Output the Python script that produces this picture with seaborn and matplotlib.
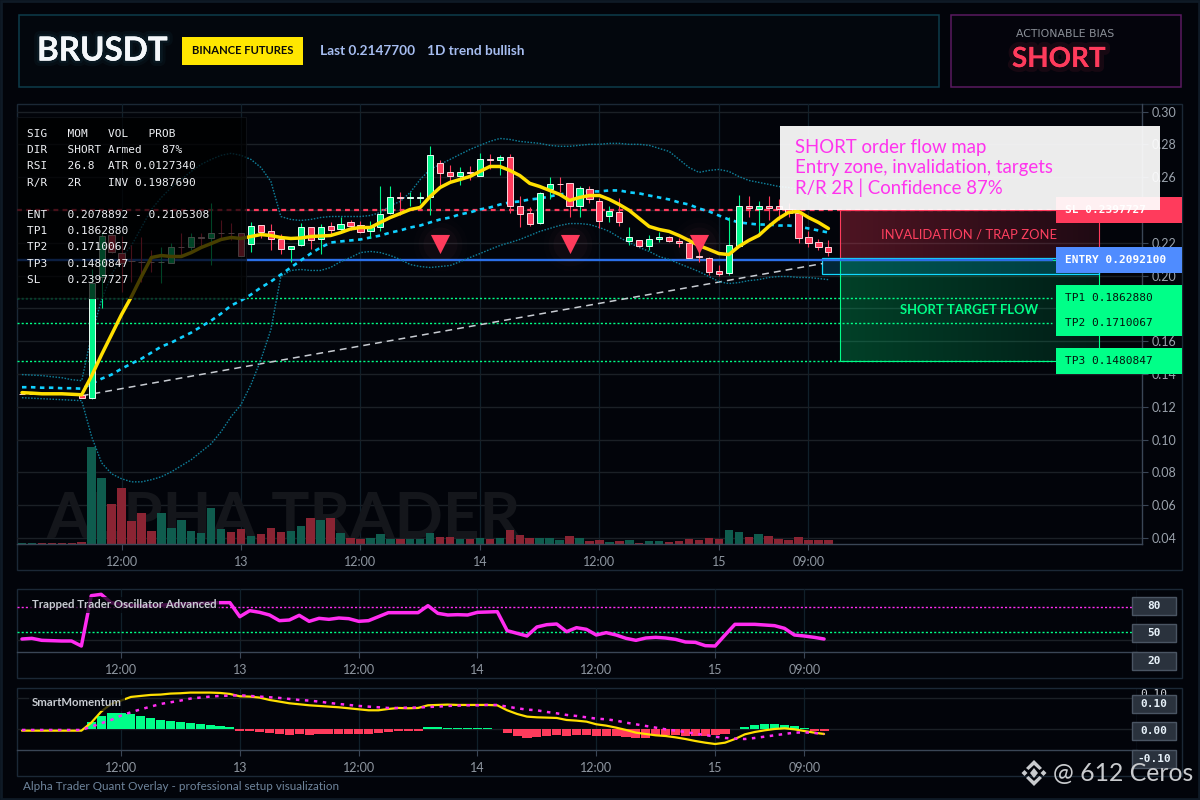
import matplotlib
matplotlib.use("Agg")
import matplotlib.pyplot as plt
from matplotlib.patches import Rectangle, Polygon
import matplotlib.patheffects as pe
import numpy as np
import pandas as pd
import seaborn as sns

# =============================================================================
# data
# =============================================================================
hours = list(range(-22, 60))  # hours from the start of the 13th, one bar per hour
tick_hours = [-12, 0, 12, 24, 36, 48, 57]
tick_labels = ["12:00", "13", "12:00", "14", "12:00", "15", "09:00"]
price_ticks = [0.04, 0.06, 0.08, 0.10, 0.12, 0.14, 0.16, 0.18, 0.20, 0.22, 0.24, 0.26, 0.28, 0.30]

opens = [.1280, .1280, .1280, .1280, .1280, .1280, .1273, .1255, .1993, .2250, .2140, .2091, .2085, .2085, .2082,
         .2079, .2177, .2171, .2232, .2226, .2262, .2262, .2262, .2195, .2311, .2274, .2225, .2164, .2189, .2299,
         .2225, .2305, .2286, .2329, .2311, .2274, .2299, .2384, .2479, .2473, .2473, .2476, .2689, .2634, .2604,
         .2631, .2610, .2711, .2702, .2720, .2427, .2384, .2323, .2525, .2561, .2567, .2421, .2525, .2452, .2366,
         .2390, .2213, .2219, .2183, .2225, .2238, .2213, .2201, .2118, .2109, .2030, .2018, .2183, .2421, .2403,
         .2421, .2421, .2403, .2384, .2238, .2207, .2177]
highs = [.1284, .1284, .1284, .1284, .1284, .1284, .1279, .2042, .2262, .2256, .2244, .2189, .2238, .2158, .2177,
         .2201, .2262, .2262, .2262, .2445, .2341, .2323, .2262, .2329, .2311, .2317, .2256, .2183, .2323, .2299,
         .2317, .2329, .2354, .2341, .2335, .2335, .2549, .2543, .2512, .2512, .2512, .2787, .2702, .2677, .2659,
         .2665, .2750, .2744, .2738, .2744, .2488, .2415, .2512, .2598, .2598, .2567, .2549, .2549, .2470, .2427,
         .2470, .2299, .2219, .2250, .2268, .2244, .2231, .2231, .2158, .2115, .2067, .2354, .2494, .2488, .2452,
         .2482, .2464, .2445, .2390, .2274, .2225, .2219]
lows = [.1275, .1275, .1275, .1275, .1275, .1275, .1255, .1250, .1804, .2140, .1902, .1963, .1963, .2024, .1957,
        .2079, .2116, .2158, .2171, .2067, .2219, .2219, .2122, .2146, .2231, .2158, .2134, .2085, .2183, .2164,
        .2134, .2244, .2262, .2280, .2262, .2231, .2274, .2378, .2372, .2427, .2445, .2372, .2549, .2567, .2555,
        .2580, .2610, .2647, .2616, .2384, .2299, .2305, .2317, .2464, .2512, .2360, .2360, .2445, .2292, .2329,
        .2305, .2189, .2177, .2158, .2207, .2207, .2177, .2106, .2085, .2006, .2000, .2006, .2171, .2354, .2250,
        .2341, .2341, .2354, .2201, .2177, .2158, .2122]
closes = [.1279, .1279, .1279, .1279, .1279, .1279, .1255, .1957, .2244, .2146, .2079, .2088, .2082, .2082, .2085,
          .2177, .2174, .2232, .2229, .2262, .2259, .2259, .2122, .2305, .2268, .2225, .2164, .2183, .2299, .2219,
          .2299, .2280, .2317, .2305, .2268, .2299, .2378, .2476, .2473, .2479, .2479, .2732, .2628, .2604, .2634,
          .2625, .2708, .2705, .2720, .2421, .2378, .2317, .2506, .2561, .2558, .2421, .2531, .2464, .2335, .2396,
          .2329, .2232, .2183, .2225, .2238, .2213, .2201, .2109, .2112, .2024, .2012, .2189, .2421, .2409, .2427,
          .2409, .2403, .2384, .2231, .2201, .2171, .2146]

fast_ma = [.1286, .1283, .1279, .1279, .1279, .1276, .1273, .1389, .1518, .1640, .1762, .1872, .1994, .2110, .2122,
           .2116, .2116, .2140, .2171, .2195, .2220, .2232, .2226, .2238, .2250, .2244, .2232, .2226, .2229, .2238,
           .2241, .2244, .2262, .2284, .2293, .2293, .2324, .2354, .2378, .2403, .2415, .2482, .2537, .2568, .2586,
           .2604, .2635, .2665, .2665, .2641, .2610, .2562, .2543, .2519, .2495, .2458, .2476, .2488, .2488, .2464,
           .2433, .2397, .2348, .2299, .2281, .2269, .2244, .2214, .2183, .2159, .2134, .2128, .2177, .2214, .2244,
           .2299, .2348, .2385, .2391, .2354, .2324, .2287]
slow_ma = [.1319, .1319, .1316, .1316, .1313, .1313, .1310, .1341, .1371, .1396, .1432, .1463, .1493, .1530, .1567,
           .1591, .1622, .1652, .1689, .1725, .1768, .1817, .1847, .1884, .1927, .1963, .2006, .2049, .2092, .2134,
           .2171, .2201, .2208, .2214, .2220, .2232, .2244, .2262, .2275, .2293, .2305, .2324, .2342, .2354, .2373,
           .2385, .2403, .2415, .2433, .2446, .2452, .2464, .2470, .2482, .2495, .2501, .2507, .2513, .2513, .2519,
           .2519, .2507, .2501, .2488, .2476, .2464, .2446, .2433, .2409, .2391, .2366, .2342, .2324, .2317, .2311,
           .2311, .2305, .2305, .2299, .2287, .2275, .2262]
band_up = [.1396, .1393, .1390, .1383, .1377, .1365, .1359, .1640, .1854, .2006, .2110, .2183, .2293, .2403, .2476,
           .2537, .2586, .2635, .2678, .2708, .2733, .2745, .2733, .2708, .2659, .2574, .2360, .2342, .2336, .2342,
           .2354, .2360, .2360, .2360, .2360, .2366, .2385, .2427, .2452, .2507, .2586, .2647, .2678, .2708, .2739,
           .2769, .2794, .2818, .2836, .2830, .2818, .2812, .2806, .2794, .2788, .2788, .2794, .2800, .2800, .2806,
           .2806, .2800, .2800, .2794, .2775, .2757, .2708, .2659, .2629, .2641, .2647, .2635, .2604, .2580, .2568,
           .2556, .2543, .2537, .2525, .2513, .2501, .2482]
band_lo = [.1255, .1252, .1249, .1246, .1243, .1240, .1237, .1017, .0858, .0791, .0761, .0742, .0742, .0755, .0773,
           .0803, .0840, .0877, .0926, .0974, .1048, .1139, .1213, .1335, .1487, .1670, .1994, .2031, .2037, .2031,
           .2031, .2049, .2085, .2110, .2140, .2147, .2140, .2122, .2098, .2067, .2055, .2049, .2055, .2061, .2085,
           .2110, .2134, .2159, .2183, .2201, .2220, .2244, .2269, .2287, .2305, .2317, .2317, .2311, .2293, .2269,
           .2232, .2201, .2171, .2147, .2116, .2098, .2073, .2049, .2024, .1994, .1963, .1951, .1957, .1969, .1975,
           .1988, .1994, .1994, .1988, .1988, .1982, .1975]
volume = [1.3, 1.3, 1.3, 1.3, 1.3, 1.3, 2.3, 97, 66, 40, 56, 23, 31, 13, 31, 16, 24, 13, 11, 36, 15, 12, 15, 8, 10,
          16, 12, 13, 18, 26, 24, 26, 11, 6, 5, 6, 10, 5, 5, 5, 5, 11, 7, 7, 5, 5, 6, 5, 6, 14, 9, 6, 6, 6, 4, 8, 6,
          3, 4, 2.3, 3.3, 4.3, 1.3, 3.3, 3.3, 2.3, 3.3, 5.3, 4.3, 6.3, 5.3, 14.3, 12.3, 7.3, 10.3, 8.3, 5.3, 4.3,
          7.3, 4.3, 4.3, 4.3]
volume_up = [1, 1, 0, 0, 0, 0, 0, 1, 1, 0, 0, 0, 0, 0, 1, 1, 1, 1, 1, 1, 1, 0, 0, 1, 0, 0, 0, 1, 1, 0, 1, 0, 1, 0, 0,
             1, 1, 1, 0, 1, 1, 1, 0, 0, 1, 0, 1, 0, 1, 0, 0, 0, 1, 1, 1, 0, 1, 0, 0, 1, 0, 1, 0, 1, 1, 0, 0, 0, 0, 0,
             0, 1, 1, 0, 1, 0, 0, 0, 0, 0, 0, 0]

osc = [41.0, 41.8, 39.4, 39.0, 38.6, 38.6, 32.6, 93.0, 94.6, 84.6, 82.6, 81.4, 81.0, 81.0, 81.4, 82.6, 83.0, 83.4,
       83.8, 84.2, 84.6, 84.6, 67.8, 75.0, 73.0, 69.8, 63.0, 63.8, 69.4, 62.2, 65.8, 64.6, 66.2, 65.4, 62.2, 63.0,
       67.8, 72.6, 72.6, 72.6, 72.6, 81.0, 71.8, 69.8, 70.2, 69.8, 73.0, 73.4, 73.8, 51.0, 47.8, 44.6, 55.4, 58.2,
       59.0, 49.8, 54.6, 52.6, 45.8, 48.6, 45.8, 41.8, 39.4, 42.2, 43.0, 42.2, 40.6, 37.4, 37.0, 33.0, 32.6, 45.8,
       58.6, 58.6, 58.6, 57.8, 57.0, 53.8, 45.8, 44.6, 43.0, 41.0]
mom = [-.0054, -.0054, -.0054, -.0054, -.0054, -.0054, -.0054, .0204, .0559, .0806, .0914, .1032, .1065, .1097,
       .1108, .1140, .1151, .1172, .1172, .1172, .1161, .1129, .1054, .1043, .1011, .0935, .0882, .0828, .0796,
       .0763, .0742, .0720, .0699, .0667, .0634, .0602, .0602, .0645, .0677, .0667, .0677, .0763, .0774, .0785,
       .0774, .0774, .0774, .0774, .0763, .0602, .0484, .0398, .0376, .0366, .0355, .0290, .0269, .0237, .0151,
       .0108, .0043, -.0032, -.0118, -.0161, -.0204, -.0226, -.0269, -.0323, -.0387, -.0441, -.0484, -.0441,
       -.0323, -.0172, -.0097, -.0043, 0, .0022, -.0011, -.0065, -.0118, -.0161]
mom_signal = [-.0032, -.0032, -.0032, -.0032, -.0032, -.0032, -.0032, .0075, .0183, .0290, .0430, .0538, .0634, .0720,
              .0806, .0860, .0914, .0978, .1011, .1043, .1065, .1075, .1086, .1065, .1043, .1022, .1000, .0968, .0935,
              .0914, .0882, .0839, .0806, .0774, .0742, .0720, .0699, .0677, .0677, .0688, .0688, .0710, .0720, .0742,
              .0753, .0763, .0763, .0774, .0774, .0720, .0667, .0624, .0602, .0548, .0505, .0452, .0419, .0376, .0333,
              .0312, .0269, .0204, .0151, .0097, .0043, -.0011, -.0054, -.0097, -.0151, -.0194, -.0247, -.0290,
              -.0312, -.0323, -.0290, -.0247, -.0204, -.0161, -.0118, -.0108, -.0129, -.0161]
mom_hist = [0, 0, 0, 0, 0, 0, 0, .0237, .0419, .0516, .0516, .0473, .0419, .0355, .0290, .0258, .0226, .0183, .0161,
            .0129, .0097, .0065, -.0065, -.0065, -.0097, -.0129, -.0161, -.0194, -.0161, -.0194, -.0161, -.0161,
            -.0161, -.0161, -.0161, -.0161, -.0129, -.0097, -.0065, -.0065, -.0065, .0065, .0065, .0032, .0032, .0032,
            .0032, .0032, .0011, -.0129, -.0226, -.0290, -.0247, -.0226, -.0194, -.0226, -.0194, -.0194, -.0226,
            -.0226, -.0226, -.0258, -.0290, -.0290, -.0194, -.0194, -.0194, -.0226, -.0226, -.0226, -.0194, -.0161,
            .0011, .0065, .0129, .0161, .0161, .0129, .0097, .0032, -.0065, -.0065]

sl_level = 0.2397727
entry_level = 0.2092100
entry_zone = [0.2012, 0.2105308]
tp_levels = [0.1862880, 0.1710067, 0.1480847]
trend_x = [-16, 58.4]
trend_y = [0.1267, 0.2073]
signal_hours = [20, 33, 46]
signal_prices = [0.2190, 0.2190, 0.2190]
zone_hours = [60.2, 86.2]

BG = "#02040a"
UP = "#00f58a"
DOWN = "#ff3b5c"
YELLOW = "#ffdf00"
CYAN = "#10d0ff"
MAGENTA = "#ff2cf0"
TP_GREEN = "#00ff88"
TICK = "#8f97a1"
UI_FONT = ["Lato", "DejaVu Sans"]
MONO = "DejaVu Sans Mono"

sns.set_theme(style="dark", rc={"axes.facecolor": BG, "figure.facecolor": BG, "savefig.facecolor": BG})
plt.rcParams["font.family"] = UI_FONT

W, H = 1200, 800
fig = plt.figure(figsize=(12, 8), dpi=100)


def box(x0, y0, x1, y1):
    return [x0 / W, 1 - y1 / H, (x1 - x0) / W, (y1 - y0) / H]


def style_axes(a, xright):
    a.set_xlim(-22.5, xright)
    a.set_xticks(tick_hours)
    a.set_xticklabels(tick_labels, fontsize=9, color=TICK)
    a.tick_params(axis="x", length=4, width=0.8, color="#3a4656", pad=5, bottom=True)
    a.grid(True, axis="x", color="#10202a", lw=0.9)
    a.set_axisbelow(True)
    a.set_xlabel("")
    for s in ["top", "left"]:
        a.spines[s].set_visible(False)
    for s in ["bottom", "right"]:
        a.spines[s].set_color("#3a4656")
        a.spines[s].set_linewidth(1.0)


def line(a, y, x=hours, **kw):
    sns.lineplot(x=x, y=y, ax=a, estimator=None, sort=False, legend=False, **kw)


def fade_zone(a, x0, x1, y0, y1, rgb, a_left, a_right):
    # zones get dimmer towards the right
    img = np.zeros((1, 64, 4))
    img[..., :3] = rgb
    img[..., 3] = np.linspace(a_left, a_right, 64)
    a.imshow(img, extent=(x0, x1, y0, y1), aspect="auto", zorder=1.5, interpolation="bilinear")


# =============================================================================
# frames behind everything
# =============================================================================
back = fig.add_axes([0, 0, 1, 1], zorder=-1)
back.set_xlim(0, W)
back.set_ylim(H, 0)
back.axis("off")
back.add_patch(Rectangle((1, 1), 1198, 798, fill=False, ec="#0f1a26", lw=2))
back.add_patch(Rectangle((19, 15), 920, 72, fc="#03070d", ec="#0d3c4a", lw=1.1))
back.add_patch(Rectangle((951, 15), 230, 72, fc="#04040c", ec="#5a1a60", lw=1.1))
back.add_patch(Rectangle((17, 104), 1165, 466, fc=BG, ec="#1b2836", lw=1.0))
back.add_patch(Rectangle((17, 589), 1165, 89, fc=BG, ec="#1b2836", lw=1.0))
back.add_patch(Rectangle((17, 688), 1165, 88, fc=BG, ec="#1b2836", lw=1.0))

# =============================================================================
# main price chart: grid and watermark, then volume, then price
# =============================================================================
main_box = box(17, 104, 1142, 544)
grid_ax = fig.add_axes(main_box, facecolor="none", zorder=0.5)
grid_ax.set_xlim(-22.5, 90.5)
grid_ax.set_ylim(0.0363, 0.3046)
grid_ax.set_xticks(tick_hours)
grid_ax.set_yticks(price_ticks)
grid_ax.tick_params(length=0, labelbottom=False, labelleft=False)
grid_ax.grid(True, axis="y", color="#1b2026", lw=1.0)
grid_ax.grid(True, axis="x", color="#10202a", lw=0.9)
for s in grid_ax.spines.values():
    s.set_visible(False)
grid_ax.text(-19.6, 0.0398, "ALPHA TRADER", fontsize=45.8, fontweight="bold", color="#14161b", va="baseline", ha="left")

vol_ax = fig.add_axes(main_box, facecolor="none", zorder=0.8)
vol_df = pd.DataFrame({"h": hours, "v": volume, "up": volume_up})
sns.barplot(data=vol_df, x="h", y="v", hue="up", native_scale=True, dodge=False, width=0.85,
            palette={1: "#0f5c4e", 0: "#8a2433"}, errorbar=None, legend=False, ax=vol_ax, saturation=1, linewidth=0)
vol_ax.set_xlim(-22.5, 90.5)
vol_ax.set_ylim(0, 440)
vol_ax.axis("off")

ax = fig.add_axes(main_box, facecolor="none", zorder=1)
ax.set_ylim(0.0363, 0.3046)
style_axes(ax, 90.5)
ax.grid(False)
ax.set_yticks(price_ticks)
ax.set_yticklabels([f"{t:.2f}" for t in price_ticks], fontsize=9, color="#9aa2ac")
ax.yaxis.tick_right()
ax.tick_params(axis="y", length=4, width=0.8, color="#3a4656", pad=3, right=True)

# target and invalidation zones
dz = zone_hours[1] - zone_hours[0]
fade_zone(ax, zone_hours[0], zone_hours[1], entry_level, sl_level, (1.0, 0.23, 0.36), 0.30, 0.12)
ax.add_patch(Rectangle((zone_hours[0], entry_level), dz, sl_level - entry_level,
                       fc="none", ec="#ff3b5c", lw=0.8, zorder=1.6))
fade_zone(ax, zone_hours[0], zone_hours[1], tp_levels[2], entry_level, (0.0, 1.0, 0.53), 0.24, 0.10)
ax.add_patch(Rectangle((zone_hours[0], tp_levels[2]), dz, entry_level - tp_levels[2],
                       fc="none", ec="#00ff88", lw=0.8, zorder=1.6))
ax.add_patch(Rectangle((58.4, entry_zone[0]), zone_hours[1] - 58.4, entry_zone[1] - entry_zone[0],
                       fc="#00a8d8", alpha=0.22, ec="none", zorder=1.7))
ax.add_patch(Rectangle((58.4, entry_zone[0]), zone_hours[1] - 58.4, entry_zone[1] - entry_zone[0],
                       fc="none", ec="#12d8ff", lw=0.9, zorder=1.8))

ax.text(73.1, 0.2248, "INVALIDATION / TRAP ZONE", color="#ff4060", fontsize=9.4, ha="center", va="center", zorder=3)
ax.text(73.1, 0.1792, "SHORT TARGET FLOW", color=TP_GREEN, fontsize=9.4, fontweight="bold",
        ha="center", va="center", zorder=3)

# levels
for lv in tp_levels:
    ax.axhline(lv, xmax=0.92, color=TP_GREEN, lw=1.0, ls=(0, (1.5, 1.5)), zorder=2)
ax.axhline(sl_level, xmax=0.92, color="#ff3b5c", lw=1.6, ls=(0, (2.2, 1.9)), zorder=2)
ax.axhline(entry_level, xmax=0.92, color="#2b6fe8", lw=1.7, zorder=2)
line(ax, trend_y, x=trend_x, color="#c8ccd2", lw=1.1, linestyle=(0, (4.5, 3.3)), zorder=2.2)

# bands and averages
line(ax, band_up, color="#0f7f9a", lw=1.0, linestyle=(0, (1.1, 1.1)), zorder=2.3)
line(ax, band_lo, color="#0f7f9a", lw=1.0, linestyle=(0, (1.1, 1.1)), zorder=2.3)
line(ax, slow_ma, color=CYAN, lw=1.9, linestyle=(0, (1.7, 1.7)), zorder=2.4)

# candles
for h, o, hi, lo, c in zip(hours, opens, highs, lows, closes):
    up = c >= o
    col = UP if up else DOWN
    edge = "#e6fff3" if up else "#ffd2da"
    ax.vlines(h, lo, hi, color=col, lw=0.8, zorder=2.5)
    ax.bar(h, abs(c - o), bottom=min(o, c), width=0.62, color=col, edgecolor=edge, linewidth=0.7, zorder=2.6)

line(ax, fast_ma, color=YELLOW, lw=2.5, zorder=2.8)

# short signals with a small glow
sig_df = pd.DataFrame({"h": signal_hours, "p": signal_prices})
for size, a in zip([1500, 1000, 600], [0.012, 0.02, 0.03]):
    sns.scatterplot(data=sig_df, x="h", y="p", ax=ax, s=size, color="#ff8090", alpha=a, linewidth=0, zorder=2.9,
                    legend=False)
sns.scatterplot(data=sig_df, x="h", y="p", ax=ax, s=190, marker="v", color="#ff3b5c", linewidth=0, zorder=3,
                legend=False)
ax.set_xlabel("")
ax.set_ylabel("")
ax.set_xlim(-22.5, 90.5)
ax.set_ylim(0.0363, 0.3046)

# =============================================================================
# oscillator
# =============================================================================
osc_ax = fig.add_axes(box(17, 589, 1137, 652), facecolor="none", zorder=1)
osc_ax.set_ylim(25.4, 101)
style_axes(osc_ax, 90.6)
osc_ax.spines["right"].set_visible(False)
osc_ax.set_yticks([40])
osc_ax.set_yticklabels([])
osc_ax.tick_params(axis="y", length=0)
osc_ax.grid(True, axis="y", color="#1b2026", lw=1.0)
osc_ax.axhline(80, color=MAGENTA, lw=1.0, ls=(0, (1.5, 1.5)), zorder=2)
osc_ax.axhline(50, color=TP_GREEN, lw=1.0, ls=(0, (1.5, 1.5)), zorder=2)
line(osc_ax, osc, color=MAGENTA, lw=2.5, zorder=3)
osc_ax.axvline(90.6, color="#1b2836", lw=1.0)
osc_ax.set_xlim(-22.5, 90.6)

# =============================================================================
# momentum
# =============================================================================
mom_ax = fig.add_axes(box(17, 688, 1137, 750), facecolor="none", zorder=1)
mom_ax.set_ylim(-0.0677, 0.132)
style_axes(mom_ax, 90.6)
mom_ax.spines["right"].set_visible(False)
mom_ax.set_yticks([0.0, 0.10])
mom_ax.set_yticklabels([])
mom_ax.tick_params(axis="y", length=0)
mom_ax.grid(True, axis="y", color="#1b2026", lw=1.0)
hist_df = pd.DataFrame({"h": hours, "v": mom_hist, "up": [v > 0 for v in mom_hist]})
sns.barplot(data=hist_df, x="h", y="v", hue="up", native_scale=True, dodge=False, width=0.92,
            palette={True: TP_GREEN, False: DOWN}, errorbar=None, legend=False, ax=mom_ax, saturation=1,
            linewidth=0, zorder=2)
line(mom_ax, mom, color=YELLOW, lw=1.6, zorder=3)
line(mom_ax, mom_signal, color=MAGENTA, lw=1.8, linestyle=(0, (1.4, 2.2)), zorder=3.2)
mom_ax.axvline(90.6, color="#1b2836", lw=1.0)
mom_ax.set_xlabel("")
mom_ax.set_ylabel("")
mom_ax.set_xlim(-22.5, 90.6)
mom_ax.set_ylim(-0.0677, 0.132)

# =============================================================================
# everything that sits on top
# =============================================================================
ov = fig.add_axes([0, 0, 1, 1], facecolor="none", zorder=10)
ov.set_xlim(0, W)
ov.set_ylim(H, 0)
ov.axis("off")


def py(p):
    return H - ax.transData.transform((0, p))[1]


# header
title = ov.text(37, 51, "BRUSDT", fontsize=23.8, fontweight="bold", color="#f4f7fa", va="center", ha="left")
title.set_path_effects([pe.withStroke(linewidth=8, foreground="#12303c", alpha=0.18),
                        pe.withStroke(linewidth=4, foreground="#1b4454", alpha=0.18), pe.Normal()])
ov.add_patch(Rectangle((182, 37), 121, 28, fc="#ffe600", ec="none"))
ov.text(242.5, 51, "BINANCE FUTURES", fontsize=8.1, fontweight="bold", color="#0a0a0a", ha="center", va="center")
ov.text(320, 51, "Last 0.2147700", fontsize=9.8, fontweight="bold", color="#a6bdf0", va="center")
ov.text(427, 51, "1D trend bullish", fontsize=9.8, fontweight="bold", color="#a6bdf0", va="center")
ov.text(1065.5, 34, "ACTIONABLE BIAS", fontsize=7.8, family=["DejaVu Sans"], color="#8b9098", ha="center", va="center")
bias = ov.text(1012, 59, "SHORT", fontsize=20, fontweight="bold", color="#ff3b5c", va="center", ha="left")
bias.set_path_effects([pe.withStroke(linewidth=7, foreground="#ff3b5c", alpha=0.08), pe.Normal()])

# readout panel
ov.add_patch(Rectangle((17, 117), 229, 181, fc="#000000", alpha=0.72, ec="#12161c", lw=0.8))
panel_rows = [
    (134, "SIG   MOM   VOL   PROB"),
    (150, "DIR   SHORT Armed   87%"),
    (166, "RSI   26.8  ATR 0.0127340"),
    (183, "R/R   2R    INV 0.1987690"),
    (215, "ENT   0.2078892 - 0.2105308"),
    (231, "TP1   0.1862880"),
    (247, "TP2   0.1710067"),
    (264, "TP3   0.1480847"),
    (280, "SL    0.2397727"),
]
for y, txt in panel_rows:
    ov.text(27, y, txt, family=MONO, fontsize=8.0, color="#eef0f4", va="center", ha="left")

# price tags
tags = [
    (sl_level, "SL 0.2397727", "#ff3b5c", "#ffffff", "bold"),
    (entry_level, "ENTRY 0.2092100", "#4f8cff", "#ffffff", "bold"),
    (tp_levels[0], "TP1 0.1862880", TP_GREEN, "#04140c", "normal"),
    (tp_levels[1], "TP2 0.1710067", TP_GREEN, "#04140c", "normal"),
    (tp_levels[2], "TP3 0.1480847", TP_GREEN, "#04140c", "normal"),
]
for p, txt, fc, tc, weight in tags:
    yc = py(p)
    ov.add_patch(Rectangle((1056, yc - 13), 126, 26, fc=fc, ec="none"))
    ov.text(1065, yc, txt, family=MONO, fontsize=8.0, color=tc, fontweight=weight, va="center", ha="left")

# note box
ov.add_patch(Rectangle((780, 126), 380, 84, fc="#ffffff", alpha=0.93, ec="none"))
for y, txt in [(147, "SHORT order flow map"), (168, "Entry zone, invalidation, targets"),
               (188, "R/R 2R | Confidence 87%")]:
    ov.text(795, y, txt, fontsize=13.4, color="#ff33ee", va="center", ha="left")

# indicator labels and value boxes
ov.text(32, 605, "Trapped Trader Oscillator Advanced", fontsize=8.2, fontweight="bold", color="#c8ccd2",
        va="center", bbox=dict(fc=BG, alpha=0.75, ec="none", pad=2))
ov.text(32, 703, "SmartMomentum", fontsize=8.2, fontweight="bold", color="#c8ccd2", va="center",
        bbox=dict(fc=BG, alpha=0.75, ec="none", pad=2))
ov.text(1154, 694, "0.10", family=MONO, fontsize=8, color="#d8dce2", ha="center", va="center", zorder=1)
for y, txt in [(606, "80"), (633, "50"), (661, "20"), (704, "0.10"), (731, "0.00"), (759, "-0.10")]:
    ov.add_patch(Rectangle((1132, y - 9), 44, 18, fc="#2a323d", ec="#4a5563", lw=1.0, zorder=2))
    ov.text(1154, y, txt, family=MONO, fontsize=8, fontweight="bold", color="#e8f2fa", ha="center", va="center",
            zorder=3)

# footer
ov.text(23, 787, "Alpha Trader Quant Overlay - professional setup visualization", fontsize=8.4, color="#6f859c",
        va="center", ha="left")
ov.text(1053, 773, "@ 612 Ceros", fontsize=17.8, color="#c9cbce", va="center", ha="left", zorder=5)
logo_c = "#c9cbce"
ov.add_patch(Polygon([(1034, 768), (1038, 773), (1034, 778), (1030, 773)], fc=logo_c, ec="none", zorder=5))
ov.add_patch(Polygon([(1024.5, 770), (1027.5, 773), (1024.5, 776), (1021.5, 773)], fc=logo_c, ec="none", zorder=5))
ov.add_patch(Polygon([(1043.5, 770), (1046.5, 773), (1043.5, 776), (1040.5, 773)], fc=logo_c, ec="none", zorder=5))
ov.add_patch(Polygon([(1034, 760), (1042, 768), (1039.5, 770), (1034, 765), (1028.5, 770), (1026, 768)],
                     fc=logo_c, ec="none", zorder=5))
ov.add_patch(Polygon([(1034, 786), (1042, 778), (1039.5, 776), (1034, 781), (1028.5, 776), (1026, 778)],
                     fc=logo_c, ec="none", zorder=5))

fig.savefig("out.png", dpi=100)
